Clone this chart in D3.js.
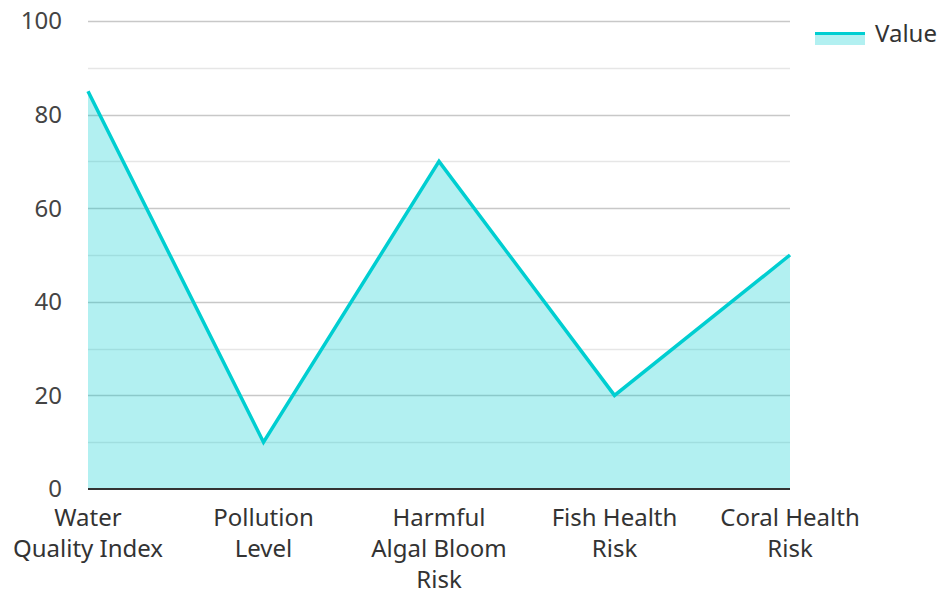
<!DOCTYPE html>
<html>
<head>
<meta charset="utf-8">
<script src="https://cdn.jsdelivr.net/npm/d3@7"></script>
<style>
  html, body { margin: 0; padding: 0; background: #fff; }
  svg { display: block; font-family: "Noto Sans", sans-serif; }
</style>
</head>
<body>
<svg id="chart" width="940" height="592"></svg>
<script>
// Risk indicators and their scores
const categories = [
  ["Water", "Quality Index"],
  ["Pollution", "Level"],
  ["Harmful", "Algal Bloom", "Risk"],
  ["Fish Health", "Risk"],
  ["Coral Health", "Risk"]
];
const values = [85, 10, 70, 20, 50];
const yTicks = [0, 20, 40, 60, 80, 100];
const yMinorTicks = [10, 30, 50, 70, 90];
const seriesName = "Value";

const lineColor = "#00ced1";
const svg = d3.select("#chart");
const margin = { left: 88, right: 150, top: 21, bottom: 103 };
const W = 940, H = 592;

const x = d3.scalePoint()
  .domain(d3.range(categories.length))
  .range([margin.left, W - margin.right])
  .padding(0);
const y = d3.scaleLinear().domain([0, 100]).range([H - margin.bottom, margin.top]);

// grid lines
const grid = svg.append("g");
grid.selectAll("line.minor").data(yMinorTicks).join("line")
  .attr("class", "minor")
  .attr("x1", margin.left).attr("x2", W - margin.right)
  .attr("y1", d => Math.round(y(d)) + 0.5).attr("y2", d => Math.round(y(d)) + 0.5)
  .attr("stroke", "#e6e6e6").attr("stroke-width", 1.5);
grid.selectAll("line.major").data(yTicks.filter(d => d > 0)).join("line")
  .attr("class", "major")
  .attr("x1", margin.left).attr("x2", W - margin.right)
  .attr("y1", d => Math.round(y(d)) + 0.5).attr("y2", d => Math.round(y(d)) + 0.5)
  .attr("stroke", "#c8c8c8").attr("stroke-width", 1.5);

// area + line
svg.append("path")
  .datum(values)
  .attr("d", d3.area().x((d, i) => x(i)).y0(y(0)).y1(d => y(d)))
  .attr("fill", lineColor).attr("fill-opacity", 0.3);
svg.append("path")
  .datum(values)
  .attr("d", d3.line().x((d, i) => x(i)).y(d => y(d)))
  .attr("fill", "none").attr("stroke", lineColor).attr("stroke-width", 3.5)
  .attr("stroke-linejoin", "miter");

// baseline
svg.append("line")
  .attr("x1", margin.left).attr("x2", W - margin.right)
  .attr("y1", y(0)).attr("y2", y(0))
  .attr("stroke", "#333").attr("stroke-width", 2);

// y labels
svg.append("g").selectAll("text").data(yTicks).join("text")
  .attr("x", 62).attr("y", d => y(d)).attr("dy", "0.35em")
  .attr("text-anchor", "end").attr("font-size", 24).attr("fill", "#444")
  .text(d => d);

// x labels
const xl = svg.append("g").selectAll("text").data(categories).join("text")
  .attr("text-anchor", "middle").attr("font-size", 24).attr("fill", "#333")
  .attr("x", (d, i) => x(i)).attr("y", 526);
xl.selectAll("tspan").data(d => d).join("tspan")
  .attr("x", function () { return this.parentNode.getAttribute("x"); })
  .attr("dy", (d, i) => i === 0 ? 0 : 31)
  .text(d => d);

// legend
const lg = svg.append("g").attr("transform", "translate(815,32)");
lg.append("rect").attr("width", 50).attr("height", 13)
  .attr("fill", lineColor).attr("fill-opacity", 0.3);
lg.append("rect").attr("width", 50).attr("height", 3).attr("fill", lineColor);
lg.append("text").attr("x", 60).attr("y", 10).attr("font-size", 24).attr("fill", "#333")
  .text(seriesName);
</script>
</body>
</html>
